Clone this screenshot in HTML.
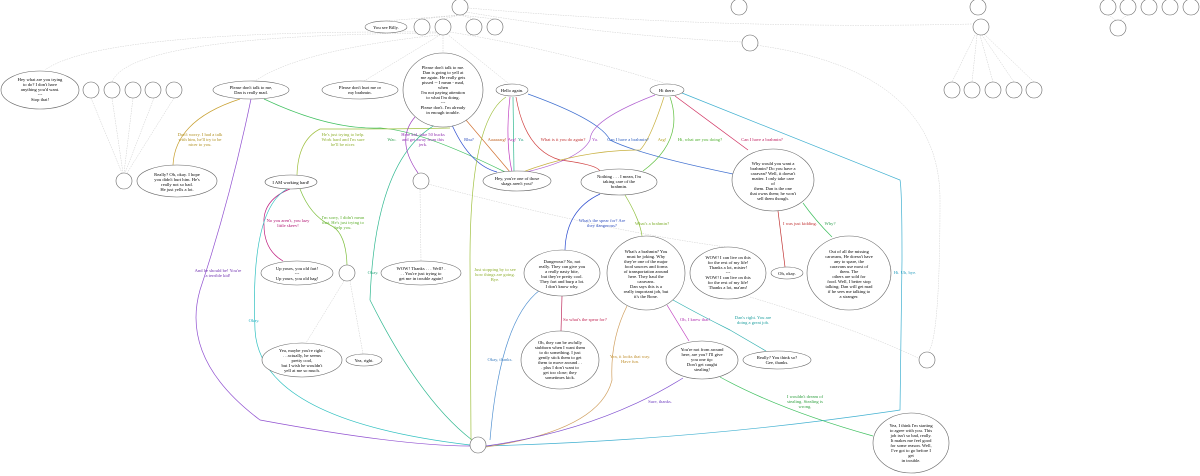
<!DOCTYPE html>
<html><head><meta charset="utf-8"><style>
html,body{margin:0;padding:0;background:#fff;width:1200px;height:476px;overflow:hidden}
svg{display:block}
text{font-family:"Liberation Serif",serif;font-size:4.6px;text-anchor:middle}
.n{fill:#fff;stroke:#666;stroke-width:0.6}
.g{fill:none;stroke:#ccc;stroke-width:0.5;stroke-dasharray:1.5 1}
.e{fill:none;stroke-width:0.7}
</style></head><body>
<svg width="1200" height="476" viewBox="0 0 1200 476" xmlns="http://www.w3.org/2000/svg">
<!-- gray dotted edges -->
<g class="g">
<path d="M460,15 L385,21"/><path d="M460,15 L422,19"/><path d="M460,15 L443,19"/><path d="M460,15 L474,19"/><path d="M460,15 L495,19"/>
<path d="M468,8 Q720,30 972,24"/><path d="M466,12 Q600,35 742,42"/>
<path d="M436,32 Q100,30 45,70"/><path d="M436,33 Q130,35 112,82"/><path d="M438,35 Q300,50 255,81"/>
<path d="M440,35 L364,81"/><path d="M443,35 L443,53"/><path d="M447,34 L508,83"/><path d="M450,32 Q560,50 664,83"/>
<path d="M755,45 Q940,70 940,200 Q940,340 928,352"/>
<path d="M91,98 L122,173"/><path d="M112,98 L123,173"/><path d="M133,98 L124,173"/><path d="M154,98 L125,173"/><path d="M174,98 L127,173"/>
<path d="M975,35 L952,82"/><path d="M977,35 L972,82"/><path d="M980,35 L993,82"/><path d="M982,35 L1014,82"/><path d="M984,34 L1034,82"/>
<path d="M1108,15 L1116,20"/><path d="M1128,15 L1120,20"/>
<path d="M420,189 L421,261"/><path d="M428,184 Q600,230 726,247"/>
<path d="M344,281 L306,343"/><path d="M350,281 L363,354"/>
<path d="M750,297 Q860,330 918,358"/>
</g>
<!-- colored edges -->
<g class="e">
<path d="M240,99 Q175,120 173,165" stroke="#c8a030"/>
<path d="M251,99 Q230,200 200,290 Q180,360 260,420 Q400,446 470,446" stroke="#9050d0"/>
<path d="M264,99 Q330,130 380,128 Q420,130 505,172" stroke="#40c060"/>
<path d="M450,128 Q420,129 320,129 Q298,140 297,175" stroke="#a0c040"/>
<path d="M435,125 Q375,160 370,300 Q420,400 472,440" stroke="#30b890"/>
<path d="M415,117 Q395,140 418,173" stroke="#a040c0"/>
<path d="M452,125 Q470,165 497,172" stroke="#3050d0"/>
<path d="M466,120 L510,172" stroke="#d07030"/>
<path d="M506,97 Q470,120 470,260 L471,440" stroke="#a0c040"/>
<path d="M510,97 Q505,140 512,172" stroke="#c040c0"/>
<path d="M513,97 L514,172" stroke="#30b890"/>
<path d="M516,97 Q525,150 560,160 Q600,165 600,172" stroke="#d04040"/>
<path d="M528,94 Q600,120 610,140 Q640,155 733,174" stroke="#4070d0"/>
<path d="M655,95 Q590,120 590,140 Q580,160 522,173" stroke="#b060d0"/>
<path d="M664,97 Q650,140 640,150 Q580,150 520,173" stroke="#c8b040"/>
<path d="M670,97 Q685,140 643,171" stroke="#60c040"/>
<path d="M675,96 L748,150" stroke="#d03060"/>
<path d="M682,93 L900,180 Q902,190 902,260 L900,410 Q700,440 486,446" stroke="#40b0d0"/>
<path d="M290,189 Q262,200 264,225 Q264,250 283,261" stroke="#c02080"/>
<path d="M300,189 Q310,215 330,225 Q346,232 347,265" stroke="#80c040"/>
<path d="M287,189 Q250,210 255,330 Q260,420 470,445" stroke="#30c0c0"/>
<path d="M600,194 Q566,210 565,250" stroke="#3050d0"/>
<path d="M625,195 Q640,220 642,236" stroke="#90c040"/>
<path d="M778,211 L785,267" stroke="#c03030"/>
<path d="M803,203 Q815,220 832,237" stroke="#40c060"/>
<path d="M562,296 L561,331" stroke="#c03060"/>
<path d="M540,290 Q500,320 490,440" stroke="#5090d0"/>
<path d="M627,306 Q610,340 612,380 Q600,430 486,447" stroke="#d0a060"/>
<path d="M667,305 L689,341" stroke="#c040c0"/>
<path d="M673,300 Q700,315 730,330 L766,351" stroke="#30b0b0"/>
<path d="M683,378 Q600,430 486,446" stroke="#8050d0"/>
<path d="M720,377 Q780,410 873,436" stroke="#40c060"/>
</g>
<!-- labels -->
<g>
<text fill="#b09020" y="136"><tspan x="200">Don't worry. I had a talk</tspan><tspan x="200" dy="5">with him, he'll try to be</tspan><tspan x="200" dy="5">nicer to you.</tspan></text>
<text fill="#7030b0" y="272"><tspan x="218">And he should be! You're</tspan><tspan x="218" dy="5">a terrible kid!</tspan></text>
<text fill="#30a050" x="392" y="141">Wac.</text>
<text fill="#90b030" y="136"><tspan x="343">He's just trying to help.</tspan><tspan x="343" dy="5">Work hard and I'm sure</tspan><tspan x="343" dy="5">he'll be nicer.</tspan></text>
<text fill="#30a880" x="373" y="274">Okay.</text>
<text fill="#9030b0" y="136"><tspan x="423">Here kid, take 50 bucks</tspan><tspan x="423" dy="5">and get away from this</tspan><tspan x="423" dy="5">jerk.</tspan></text>
<text fill="#3050c0" x="469" y="141">Rhu?</text>
<text fill="#c06020" x="497" y="141">Aaaaaarg!</text>
<text fill="#c030b0" x="512" y="141">Arg!</text>
<text fill="#20a080" x="521" y="141">Ya.</text>
<text fill="#90b030" y="271"><tspan x="495">Just stopping by to see</tspan><tspan x="495" dy="5">how things are going.</tspan><tspan x="495" dy="5">Bye.</tspan></text>
<text fill="#c03030" x="563" y="141">What is it you do again?</text>
<text fill="#a040c0" x="595" y="141">Ya.</text>
<text fill="#3060c0" x="628" y="141">Can I have a brahmin?</text>
<text fill="#b0a020" x="662" y="141">Arg!</text>
<text fill="#50b030" x="700" y="141">Hi, what are you doing?</text>
<text fill="#c02060" x="762" y="141">Can I have a brahmin?</text>
<text fill="#30a0c0" x="905" y="274">Hi. Uh, bye.</text>
<text fill="#b01070" y="222"><tspan x="288">No you aren't, you lazy</tspan><tspan x="288" dy="5">little skeev!</tspan></text>
<text fill="#60b030" y="219"><tspan x="343">I'm sorry, I didn't mean</tspan><tspan x="343" dy="5">that. He's just trying to</tspan><tspan x="343" dy="5">help you.</tspan></text>
<text fill="#20b0c0" x="254" y="322">Okay.</text>
<text fill="#3050c0" y="222"><tspan x="602">What's the spear for? Are</tspan><tspan x="602" dy="5">they dangerous?</tspan></text>
<text fill="#80b030" x="652" y="225">What's a brahmin?</text>
<text fill="#c03030" x="800" y="225">I was just kidding.</text>
<text fill="#30a050" x="830" y="225">Why?</text>
<text fill="#c02050" x="585" y="321">So what's the spear for?</text>
<text fill="#4080c0" x="500" y="361">Okay, thanks.</text>
<text fill="#c09030" y="358"><tspan x="630">Yea, it looks that way.</tspan><tspan x="630" dy="5">Have fun.</tspan></text>
<text fill="#b030b0" x="695" y="321">Oh, I knew that!</text>
<text fill="#20a0a0" y="319"><tspan x="753">Dan's right. You are</tspan><tspan x="753" dy="5">doing a great job.</tspan></text>
<text fill="#7040c0" x="660" y="403">Sure, thanks.</text>
<text fill="#30a040" y="398"><tspan x="805">I wouldn't dream of</tspan><tspan x="805" dy="5">stealing. Stealing is</tspan><tspan x="805" dy="5">wrong.</tspan></text>
</g>
<!-- nodes -->
<g>
<circle class="n" cx="460" cy="7" r="8"/><circle class="n" cx="739" cy="7" r="8"/><circle class="n" cx="978" cy="7" r="8"/>
<circle class="n" cx="1108" cy="7" r="8"/><circle class="n" cx="1128" cy="7" r="8"/><circle class="n" cx="1149" cy="7" r="8"/><circle class="n" cx="1170" cy="7" r="8"/><circle class="n" cx="1191" cy="7" r="8"/>
<ellipse class="n" cx="386" cy="27" rx="21" ry="6"/><text x="386" y="29">You see Billy.</text>
<circle class="n" cx="422" cy="27" r="8"/><circle class="n" cx="443" cy="27" r="8"/><circle class="n" cx="474" cy="27" r="8"/><circle class="n" cx="495" cy="27" r="8"/>
<circle class="n" cx="981" cy="27" r="8"/><circle class="n" cx="1118" cy="28" r="8"/>
<circle class="n" cx="750" cy="43" r="8"/>
<circle class="n" cx="952" cy="90" r="8"/><circle class="n" cx="972" cy="90" r="8"/><circle class="n" cx="993" cy="90" r="8"/><circle class="n" cx="1014" cy="90" r="8"/><circle class="n" cx="1034" cy="90" r="8"/>
<ellipse class="n" cx="40" cy="90" rx="39" ry="19"/><text y="81"><tspan x="40">Hey what are you trying</tspan><tspan x="40" dy="5">to do?  I don't have</tspan><tspan x="40" dy="5">anything you'd want.</tspan><tspan x="40" dy="5">---</tspan><tspan x="40" dy="5">Stop that!</tspan></text>
<circle class="n" cx="91" cy="90" r="8"/><circle class="n" cx="112" cy="90" r="8"/><circle class="n" cx="133" cy="90" r="8"/><circle class="n" cx="153" cy="90" r="8"/><circle class="n" cx="174" cy="90" r="8"/>
<circle class="n" cx="124" cy="181" r="8"/>
<ellipse class="n" cx="177" cy="181" rx="40" ry="16"/><text y="176"><tspan x="177">Really? Oh, okay. I hope</tspan><tspan x="177" dy="5">you didn't hurt him. He's</tspan><tspan x="177" dy="5">really not so bad.</tspan><tspan x="177" dy="5">He just yells a lot.</tspan></text>
<ellipse class="n" cx="251" cy="90" rx="38" ry="9"/><text y="89"><tspan x="251">Please don't talk to me,</tspan><tspan x="251" dy="5">Dan is really mad.</tspan></text>
<ellipse class="n" cx="360" cy="90" rx="38" ry="9"/><text y="89"><tspan x="360">Please don't hurt me or</tspan><tspan x="360" dy="5">my brahmin.</tspan></text>
<ellipse class="n" cx="443" cy="90" rx="40" ry="37"/><text y="69"><tspan x="443">Please don't talk to me.</tspan><tspan x="443" dy="5">Dan is going to yell at</tspan><tspan x="443" dy="5">me again.  He really gets</tspan><tspan x="443" dy="5">pissed -- I mean - mad,</tspan><tspan x="443" dy="5">when</tspan><tspan x="443" dy="5">I'm not paying attention</tspan><tspan x="443" dy="5">to what I'm doing.</tspan><tspan x="443" dy="5">---</tspan><tspan x="443" dy="5">Please don't. I'm already</tspan><tspan x="443" dy="5">in enough trouble.</tspan></text>
<ellipse class="n" cx="512" cy="90" rx="16" ry="6"/><text x="512" y="92">Hello again.</text>
<ellipse class="n" cx="667" cy="90" rx="17" ry="6"/><text x="667" y="92">Hi there.</text>
<circle class="n" cx="421" cy="181" r="8"/>
<ellipse class="n" cx="291" cy="182" rx="26" ry="7"/><text x="291" y="184">I AM working hard!</text>
<ellipse class="n" cx="517" cy="181" rx="34" ry="10"/><text y="180"><tspan x="517">Hey, you're one of those</tspan><tspan x="517" dy="5">skags aren't you?</tspan></text>
<ellipse class="n" cx="619" cy="182" rx="38" ry="13"/><text y="178"><tspan x="619">Nothing . . . I mean, I'm</tspan><tspan x="619" dy="5">taking care of the</tspan><tspan x="619" dy="5">brahmin.</tspan></text>
<ellipse class="n" cx="773" cy="180" rx="41" ry="31"/><text y="165"><tspan x="773">Why would you want a</tspan><tspan x="773" dy="5">brahmin? Do you have a</tspan><tspan x="773" dy="5">caravan? Well, it doesn't</tspan><tspan x="773" dy="5">matter. I only take care</tspan><tspan x="773" dy="5">of</tspan><tspan x="773" dy="5">them. Dan is the one</tspan><tspan x="773" dy="5">that owns them; he won't</tspan><tspan x="773" dy="5">sell them though.</tspan></text>
<ellipse class="n" cx="297" cy="273" rx="36" ry="12"/><text y="270"><tspan x="297">Up yours, you old fart!</tspan><tspan x="297" dy="5">---</tspan><tspan x="297" dy="5">Up yours, you old hag!</tspan></text>
<circle class="n" cx="347" cy="273" r="8"/>
<ellipse class="n" cx="421" cy="273" rx="40" ry="12"/><text y="270"><tspan x="421">WOW! Thanks . . . Well? .</tspan><tspan x="421" dy="5">. . You're just trying to</tspan><tspan x="421" dy="5">get me in trouble again!</tspan></text>
<ellipse class="n" cx="562" cy="273" rx="38" ry="23"/><text y="263"><tspan x="562">Dangerous? No, not</tspan><tspan x="562" dy="5">really. They can give you</tspan><tspan x="562" dy="5">a really nasty bite,</tspan><tspan x="562" dy="5">but they're pretty cool.</tspan><tspan x="562" dy="5">They fart and burp a lot.</tspan><tspan x="562" dy="5">I don't know why.</tspan></text>
<ellipse class="n" cx="646" cy="273" rx="39" ry="37"/><text y="253"><tspan x="646">What's a brahmin? You</tspan><tspan x="646" dy="5">must be joking. Why</tspan><tspan x="646" dy="5">they're one of the major</tspan><tspan x="646" dy="5">food sources and forms</tspan><tspan x="646" dy="5">of transportation around</tspan><tspan x="646" dy="5">here. They haul the</tspan><tspan x="646" dy="5">caravans.</tspan><tspan x="646" dy="5">Dan says this is a</tspan><tspan x="646" dy="5">really important job, but</tspan><tspan x="646" dy="5">it's the Bone.</tspan></text>
<ellipse class="n" cx="728" cy="273" rx="38" ry="26"/><text y="259"><tspan x="728">WOW! I can live on this</tspan><tspan x="728" dy="5">for the rest of my life!</tspan><tspan x="728" dy="5">Thanks a lot, mister!</tspan><tspan x="728" dy="5">---</tspan><tspan x="728" dy="5">WOW! I can live on this</tspan><tspan x="728" dy="5">for the rest of my life!</tspan><tspan x="728" dy="5">Thanks a lot, ma'am!</tspan></text>
<ellipse class="n" cx="787" cy="273" rx="16" ry="6"/><text x="787" y="275">Oh, okay.</text>
<ellipse class="n" cx="849" cy="273" rx="42" ry="37"/><text y="253"><tspan x="849">Out of all the missing</tspan><tspan x="849" dy="5">caravans, He doesn't have</tspan><tspan x="849" dy="5">any to spare, the</tspan><tspan x="849" dy="5">caravans use most of</tspan><tspan x="849" dy="5">them. The</tspan><tspan x="849" dy="5">others are sold for</tspan><tspan x="849" dy="5">food. Well, I better stop</tspan><tspan x="849" dy="5">talking; Dan will get mad</tspan><tspan x="849" dy="5">if he sees me talking to</tspan><tspan x="849" dy="5">a stranger.</tspan></text>
<ellipse class="n" cx="302" cy="360" rx="40" ry="17"/><text y="352"><tspan x="302">Yea, maybe you're right .</tspan><tspan x="302" dy="5">. . actually, he seems</tspan><tspan x="302" dy="5">pretty cool,</tspan><tspan x="302" dy="5">but I wish he wouldn't</tspan><tspan x="302" dy="5">yell at me so much.</tspan></text>
<ellipse class="n" cx="364" cy="360" rx="18" ry="6"/><text x="364" y="362">Yea, right.</text>
<ellipse class="n" cx="560" cy="360" rx="39" ry="29"/><text y="344"><tspan x="560">Oh, they can be awfully</tspan><tspan x="560" dy="5">stubborn when I want them</tspan><tspan x="560" dy="5">to do something.  I just</tspan><tspan x="560" dy="5">gently stick them to get</tspan><tspan x="560" dy="5">them to move around . .</tspan><tspan x="560" dy="5">. plus I don't want to</tspan><tspan x="560" dy="5">get too close; they</tspan><tspan x="560" dy="5">sometimes kick.</tspan></text>
<ellipse class="n" cx="702" cy="360" rx="36" ry="19"/><text y="351"><tspan x="702">You're not from around</tspan><tspan x="702" dy="5">here, are you? I'll give</tspan><tspan x="702" dy="5">you one tip:</tspan><tspan x="702" dy="5">Don't get caught</tspan><tspan x="702" dy="5">stealing!</tspan></text>
<ellipse class="n" cx="777" cy="360" rx="34" ry="9"/><text y="359"><tspan x="777">Really? You think so?</tspan><tspan x="777" dy="5">Gee, thanks.</tspan></text>
<circle class="n" cx="927" cy="360" r="8"/>
<circle class="n" cx="478" cy="445" r="8"/>
<ellipse class="n" cx="911" cy="443" rx="38" ry="30"/><text y="427"><tspan x="911">Yea, I think I'm starting</tspan><tspan x="911" dy="5">to agree with you. This</tspan><tspan x="911" dy="5">job isn't so bad, really.</tspan><tspan x="911" dy="5">It makes me feel good</tspan><tspan x="911" dy="5">for some reason. Well,</tspan><tspan x="911" dy="5">I've got to go before I</tspan><tspan x="911" dy="5">get</tspan><tspan x="911" dy="5">in trouble.</tspan></text>
</g>
</svg>
</body></html>
